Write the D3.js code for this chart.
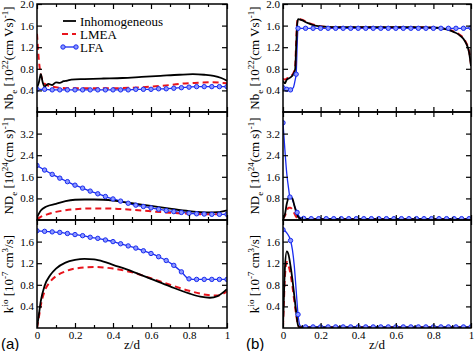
<!DOCTYPE html>
<html>
<head>
<meta charset="utf-8">
<script src="https://cdn.jsdelivr.net/npm/d3@7"></script>
<style>
  body { margin: 0; background: #fff; }
  svg text { font-family: "Liberation Serif", "Times New Roman", serif; fill: #000; }
  .tick text { font-size: 11px; }
  .ylab { font-size: 13px; }
  .tag { font-family: "Liberation Sans", Arial, sans-serif; font-size: 15px; }
</style>
</head>
<body>
<svg id="chart" width="474" height="351"></svg>
<script>
// ── Data: (a) inhomogeneous case ─────────────────────────────────────────────
const aNbInh = [[0,0.45],[0.01,0.55],[0.02,0.7],[0.03,0.55],[0.04,0.47],[0.05,0.5],[0.06,0.52],[0.08,0.5],[0.1,0.55],[0.12,0.54],[0.14,0.57],[0.16,0.58],[0.18,0.6],[0.25,0.61],[0.35,0.62],[0.45,0.63],[0.55,0.65],[0.65,0.67],[0.75,0.69],[0.82,0.7],[0.88,0.69],[0.93,0.67],[0.97,0.63],[1.0,0.58]];
const aNbLmea = [[0,1.45],[0.01,0.95],[0.02,0.7],[0.03,0.58],[0.05,0.5],[0.08,0.47],[0.12,0.45],[0.2,0.44],[0.3,0.44],[0.4,0.44],[0.5,0.45],[0.6,0.47],[0.7,0.5],[0.78,0.53],[0.85,0.54],[0.92,0.55],[1.0,0.53]];
// LFA: [z, value, marker]
const aNbLfa = [[0,0.42,1],[0.04,0.42,1],[0.08,0.41,1],[0.12,0.41,1],[0.16,0.41,1],[0.2,0.41,1],[0.24,0.41,1],[0.28,0.41,1],[0.32,0.41,1],[0.36,0.41,1],[0.4,0.41,1],[0.44,0.41,1],[0.48,0.41,1],[0.52,0.42,1],[0.56,0.42,1],[0.6,0.42,1],[0.64,0.43,1],[0.68,0.43,1],[0.72,0.44,1],[0.76,0.45,1],[0.8,0.46,1],[0.84,0.47,1],[0.88,0.47,1],[0.92,0.47,1],[0.96,0.47,1],[1.0,0.47,1]];

const aNdInh = [[0,0.1],[0.02,0.35],[0.05,0.5],[0.1,0.6],[0.15,0.7],[0.2,0.75],[0.25,0.76],[0.3,0.76],[0.35,0.75],[0.4,0.72],[0.45,0.67],[0.5,0.62],[0.6,0.52],[0.7,0.42],[0.8,0.33],[0.9,0.28],[0.95,0.29],[1.0,0.36]];
const aNdLmea = [[0,0.03],[0.02,0.12],[0.05,0.2],[0.1,0.3],[0.15,0.36],[0.2,0.4],[0.3,0.43],[0.4,0.42],[0.5,0.38],[0.6,0.32],[0.7,0.27],[0.8,0.23],[0.9,0.21],[1.0,0.21]];
const aNdLfa = [[0,2.02,1],[0.04,1.85,1],[0.08,1.69,1],[0.12,1.55,1],[0.16,1.42,1],[0.2,1.29,1],[0.24,1.18,1],[0.28,1.07,1],[0.32,0.97,1],[0.36,0.87,1],[0.4,0.78,1],[0.44,0.7,1],[0.48,0.62,1],[0.52,0.55,1],[0.56,0.5,1],[0.6,0.45,1],[0.64,0.4,1],[0.68,0.35,1],[0.72,0.31,1],[0.76,0.28,1],[0.8,0.25,1],[0.84,0.23,1],[0.88,0.22,1],[0.92,0.21,1],[0.96,0.21,1],[1.0,0.21,1]];

const aKInh = [[0,0.0],[0.01,0.25],[0.02,0.5],[0.04,0.78],[0.07,0.98],[0.1,1.1],[0.15,1.21],[0.2,1.26],[0.25,1.28],[0.3,1.27],[0.35,1.23],[0.4,1.17],[0.5,1.05],[0.6,0.91],[0.7,0.77],[0.8,0.64],[0.86,0.58],[0.91,0.56],[0.95,0.59],[1.0,0.72]];
const aKLmea = [[0,0.0],[0.01,0.2],[0.02,0.42],[0.04,0.68],[0.07,0.86],[0.1,0.96],[0.15,1.05],[0.2,1.1],[0.3,1.13],[0.4,1.1],[0.5,1.03],[0.6,0.92],[0.7,0.8],[0.8,0.69],[0.9,0.61],[0.95,0.6],[1.0,0.68]];
const aKLfa = [[0,1.8,1],[0.04,1.79,1],[0.08,1.78,1],[0.12,1.77,1],[0.16,1.75,1],[0.2,1.73,1],[0.24,1.71,1],[0.28,1.68,1],[0.32,1.66,1],[0.36,1.63,1],[0.4,1.6,1],[0.44,1.56,1],[0.48,1.52,1],[0.52,1.48,1],[0.56,1.43,1],[0.6,1.38,1],[0.64,1.32,1],[0.68,1.25,1],[0.72,1.16,1],[0.76,1.04,1],[0.8,0.91,1],[0.84,0.9,1],[0.88,0.9,1],[0.92,0.9,1],[0.96,0.9,1],[1.0,0.9,1]];

// ── Data: (b) ────────────────────────────────────────────────────────────────
const bNbInh = [[0,0.58],[0.01,0.53],[0.02,0.6],[0.04,0.64],[0.055,0.7],[0.065,0.8],[0.07,1.2],[0.075,1.6],[0.08,1.72],[0.1,1.7],[0.13,1.65],[0.17,1.6],[0.22,1.58],[0.3,1.57],[0.5,1.57],[0.7,1.57],[0.82,1.56],[0.87,1.53],[0.91,1.48],[0.94,1.42],[0.97,1.3],[0.99,1.1],[1.0,0.85]];
const bNbLmea = [[0,0.62],[0.01,0.6],[0.02,0.62],[0.04,0.66],[0.055,0.72],[0.065,0.85],[0.07,1.3],[0.075,1.65],[0.08,1.73],[0.1,1.71],[0.13,1.66],[0.17,1.61],[0.22,1.58],[0.3,1.57],[0.5,1.57],[0.7,1.57],[0.82,1.56],[0.87,1.53],[0.91,1.49],[0.94,1.43],[0.97,1.31],[0.99,1.12],[1.0,0.88]];
const bNbLfa = [[0,0.45,1],[0.02,0.42,1],[0.04,0.41,1],[0.055,0.45,0],[0.065,0.6,0],[0.07,0.7,1],[0.075,1.2,0],[0.08,1.55,1],[0.12,1.55,1],[0.16,1.55,1],[0.2,1.55,1],[0.24,1.55,1],[0.28,1.55,1],[0.32,1.55,1],[0.36,1.55,1],[0.4,1.55,1],[0.44,1.55,1],[0.48,1.55,1],[0.52,1.55,1],[0.56,1.55,1],[0.6,1.55,1],[0.64,1.55,1],[0.68,1.55,1],[0.72,1.55,1],[0.76,1.55,1],[0.8,1.55,1],[0.84,1.55,1],[0.88,1.55,1],[0.92,1.55,1],[0.96,1.55,1],[1.0,1.56,1]];

const bNdInh = [[0,0.02],[0.01,0.2],[0.02,0.6],[0.03,0.82],[0.04,0.85],[0.05,0.8],[0.06,0.55],[0.07,0.3],[0.08,0.12],[0.09,0.05],[0.1,0.03],[1.0,0.03]];
const bNdLmea = [[0,0.05],[0.01,0.15],[0.02,0.35],[0.03,0.45],[0.04,0.45],[0.05,0.38],[0.06,0.25],[0.07,0.12],[0.08,0.05],[0.1,0.03],[1.0,0.03]];
const bNdLfa = [[0,3.6,1],[0.01,2.6,0],[0.02,1.72,0],[0.03,1.15,0],[0.037,0.85,1],[0.045,0.82,0],[0.06,0.55,0],[0.075,0.28,1],[0.09,0.1,0],[0.11,0.06,1],[0.15,0.05,1],[0.19,0.05,1],[0.23,0.05,1],[0.27,0.05,1],[0.31,0.05,1],[0.35,0.05,1],[0.39,0.05,1],[0.43,0.05,1],[0.47,0.05,1],[0.51,0.05,1],[0.55,0.05,1],[0.59,0.05,1],[0.63,0.05,1],[0.67,0.05,1],[0.71,0.05,1],[0.75,0.05,1],[0.79,0.05,1],[0.83,0.05,1],[0.87,0.05,1],[0.91,0.05,1],[0.95,0.05,1],[0.99,0.05,1]];

const bKInh = [[0,0.02],[0.005,0.6],[0.01,1.1],[0.02,1.42],[0.03,1.35],[0.04,1.15],[0.05,0.9],[0.06,0.6],[0.07,0.3],[0.08,0.05],[0.09,0.01],[1.0,0.01]];
const bKLmea = [[0,0.02],[0.005,0.5],[0.01,0.95],[0.02,1.22],[0.03,1.15],[0.04,1.0],[0.05,0.78],[0.06,0.5],[0.07,0.25],[0.08,0.05],[0.09,0.01],[1.0,0.01]];
const bKLfa = [[0,1.82,1],[0.01,1.8,0],[0.02,1.76,0],[0.04,1.62,1],[0.05,1.45,0],[0.06,1.15,0],[0.07,0.7,0],[0.08,0.25,1],[0.09,0.05,0],[0.1,0.02,0],[0.12,0.02,1],[0.16,0.02,1],[0.2,0.02,1],[0.24,0.02,1],[0.28,0.02,1],[0.32,0.02,1],[0.36,0.02,1],[0.4,0.02,1],[0.44,0.02,1],[0.48,0.02,1],[0.52,0.02,1],[0.56,0.02,1],[0.6,0.02,1],[0.64,0.02,1],[0.68,0.02,1],[0.72,0.02,1],[0.76,0.02,1],[0.8,0.02,1],[0.84,0.02,1],[0.88,0.02,1],[0.92,0.02,1],[0.96,0.02,1],[1.0,0.02,1]];

// ── Tick values ──────────────────────────────────────────────────────────────
const xMajor = [0, 0.2, 0.4, 0.6, 0.8, 1];
const xMinor = [0.1, 0.3, 0.5, 0.7, 0.9];
const yTicksNb = [0.4, 0.8, 1.2, 1.6, 2.0];
const yTicksNd = [0.8, 1.6, 2.4, 3.2];
const yTicksK = [0.4, 0.8, 1.2, 1.6];
const seriesNames = ["Inhomogeneous", "LMEA", "LFA"];

const COL = { inh: "#000000", lmea: "#e8141c", lfa: "#1a2cf0" };
const MARK_FILL = "#8c98ff";

const svg = d3.select("#chart");

// panel rows (top, bottom) and columns (left, right)
const rows = [[4, 112], [112, 220], [220, 328]];
const cols = [[37, 227], [283, 471]];

const panels = [
  { col: 0, row: 0, dom: [0, 2], ticks: yTicksNb, data: [aNbInh, aNbLmea, aNbLfa], lab: "nb" },
  { col: 0, row: 1, dom: [0, 4], ticks: yTicksNd, data: [aNdInh, aNdLmea, aNdLfa], lab: "nd" },
  { col: 0, row: 2, dom: [0, 2], ticks: yTicksK, data: [aKInh, aKLmea, aKLfa], lab: "k" },
  { col: 1, row: 0, dom: [0, 2], ticks: yTicksNb, data: [bNbInh, bNbLmea, bNbLfa], lab: "nb" },
  { col: 1, row: 1, dom: [0, 4], ticks: yTicksNd, data: [bNdInh, bNdLmea, bNdLfa], lab: "nd" },
  { col: 1, row: 2, dom: [0, 2], ticks: yTicksK, data: [bKInh, bKLmea, bKLfa], lab: "k" }
];

// rotated y title with sub/superscripts
function yLabel(g, kind, cx, cy) {
  const t = g.append("text").attr("class", "ylab")
    .attr("text-anchor", "middle")
    .attr("transform", `translate(${cx},${cy}) rotate(-90)`);
  const parts = {
    nb: [["Nb", 0], ["e", 1], [" [10", 0], ["22", 2], ["(cm Vs)", 0], ["-1", 2], ["]", 0]],
    nd: [["ND", 0], ["e", 1], [" [10", 0], ["24", 2], ["(cm s)", 0], ["-1", 2], ["]", 0]],
    k:  [["k", 0], ["io", 2], [" [10", 0], ["-7", 2], [" cm", 0], ["3", 2], ["/s]", 0]]
  }[kind];
  let shift = 0;
  parts.forEach(([s, m]) => {
    const target = m === 1 ? 4 : m === 2 ? -5 : 0;
    t.append("tspan").attr("dy", target - shift)
      .attr("font-size", m ? "9px" : null).text(s);
    shift = target;
  });
}

panels.forEach(p => {
  const [x0, x1] = cols[p.col];
  const [y0, y1] = rows[p.row];
  const x = d3.scaleLinear().domain([0, 1]).range([x0, x1]);
  const y = d3.scaleLinear().domain(p.dom).range([y1, y0]);
  const g = svg.append("g");

  const clipId = `clip-${p.col}-${p.row}`;
  g.append("clipPath").attr("id", clipId)
    .append("rect").attr("x", x0).attr("y", y0).attr("width", x1 - x0).attr("height", y1 - y0);

  const line = d3.line().x(d => x(d[0])).y(d => y(d[1])).curve(d3.curveMonotoneX);
  const plot = g.append("g").attr("clip-path", `url(#${clipId})`);

  plot.append("path").attr("d", line(p.data[2]))
    .attr("fill", "none").attr("stroke", COL.lfa).attr("stroke-width", 1.3);
  plot.append("path").attr("d", line(p.data[1]))
    .attr("fill", "none").attr("stroke", COL.lmea).attr("stroke-width", 2)
    .attr("stroke-dasharray", "6,4");
  plot.append("path").attr("d", line(p.data[0]))
    .attr("fill", "none").attr("stroke", COL.inh).attr("stroke-width", 1.8);
  plot.selectAll("circle").data(p.data[2].filter(d => d[2]))
    .join("circle")
    .attr("cx", d => x(d[0])).attr("cy", d => y(d[1])).attr("r", 2.2)
    .attr("fill", MARK_FILL).attr("stroke", COL.lfa).attr("stroke-width", 1);

  // inward ticks on all four sides
  const axes = [
    [d3.axisBottom(x).tickValues(xMajor).tickSize(-5), `translate(0,${y1})`, p.row === 2],
    [d3.axisBottom(x).tickValues(xMinor).tickSize(-3), `translate(0,${y1})`, false],
    [d3.axisTop(x).tickValues(xMajor).tickSize(-5), `translate(0,${y0})`, false],
    [d3.axisTop(x).tickValues(xMinor).tickSize(-3), `translate(0,${y0})`, false],
    [d3.axisLeft(y).tickValues(p.ticks).tickSize(-5), `translate(${x0},0)`, true],
    [d3.axisRight(y).tickValues(p.ticks).tickSize(-5), `translate(${x1},0)`, false]
  ];
  axes.forEach(([ax, tr, showLabels]) => {
    ax.tickPadding(3).tickFormat(showLabels ? (d => d === 1 || d === 0 ? String(d) : d3.format(".1f")(d)) : "");
    const ag = g.append("g").attr("transform", tr).call(ax);
    ag.select(".domain").remove();
    ag.selectAll("line").attr("stroke", "#000").attr("stroke-width", 1.2);
    ag.selectAll("text").attr("font-family", null).attr("font-size", null);
  });

  g.append("rect").attr("x", x0).attr("y", y0)
    .attr("width", x1 - x0).attr("height", y1 - y0)
    .attr("fill", "none").attr("stroke", "#000").attr("stroke-width", 1.5);

  yLabel(g, p.lab, x0 - 24, (y0 + y1) / 2);
});

// ── Legend (panel a, top) ───────────────────────────────────────────────────
const legendY = [21, 34, 47];
const lgd = svg.append("g");
seriesNames.forEach((name, i) => {
  const yy = legendY[i];
  const ln = lgd.append("line").attr("x1", 63).attr("x2", 76).attr("y1", yy).attr("y2", yy)
    .attr("stroke-width", i === 0 ? 1.8 : i === 1 ? 2 : 1.3)
    .attr("stroke", [COL.inh, COL.lmea, COL.lfa][i]);
  if (i === 1) ln.attr("stroke-dasharray", "6,4").attr("x1", 62);
  if (i === 2) {
    [63, 76].forEach(cx => lgd.append("circle").attr("cx", cx).attr("cy", yy).attr("r", 2.2)
      .attr("fill", MARK_FILL).attr("stroke", COL.lfa));
  }
  lgd.append("text").attr("x", 80).attr("y", yy + 4.5)
    .attr("font-size", "13px").text(name);
});

// ── x titles and panel tags ─────────────────────────────────────────────────
cols.forEach(([c0, c1]) => {
  svg.append("text").attr("x", (c0 + c1) / 2).attr("y", 349)
    .attr("text-anchor", "middle").attr("font-size", "13px").text("z/d");
});
svg.append("text").attr("class", "tag").attr("x", 1).attr("y", 349).text("(a)");
svg.append("text").attr("class", "tag").attr("x", 246).attr("y", 349).text("(b)");
</script>
</body>
</html>
